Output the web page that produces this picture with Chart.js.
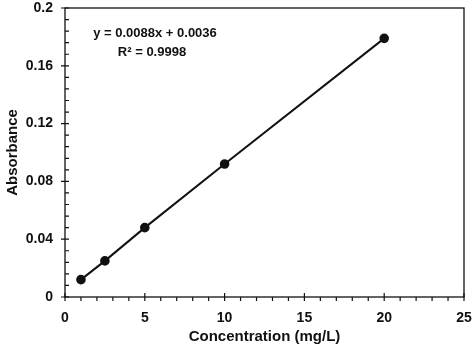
<!DOCTYPE html>
<html>
<head>
<meta charset="utf-8">
<script src="https://cdn.jsdelivr.net/npm/chart.js@4/dist/chart.umd.min.js"></script>
<style>
  html, body { margin: 0; padding: 0; background: #fff; }
  #wrap { width: 474px; height: 350px; }
</style>
</head>
<body>
<div id="wrap"><canvas id="calibration"></canvas></div>
<script>
// Standard solutions: concentration (mg/L) vs measured absorbance
const concentration = [1, 2.5, 5, 10, 20];
const absorbance = [0.012, 0.025, 0.048, 0.092, 0.179];

const xTicks = [0, 5, 10, 15, 20, 25];
const yTicks = [0, 0.04, 0.08, 0.12, 0.16, 0.2];

const equationText = "y = 0.0088x + 0.0036";
const r2Text = "R² = 0.9998";

const FONT = "'Liberation Sans', Arial, sans-serif";
const INK = "#111";

//=[ Frame, ticks and equation ]===============================================

const frameAndTicks = {
  id: "frameAndTicks",
  afterDraw(chart) {
    const { ctx, chartArea: a } = chart;
    const xs = chart.scales.x;
    const ys = chart.scales.y;
    ctx.save();
    ctx.strokeStyle = INK;
    ctx.lineWidth = 1.3;
    ctx.strokeRect(a.left, a.top, a.right - a.left, a.bottom - a.top);

    ctx.lineWidth = 1.2;
    ctx.beginPath();
    // x axis: majors cross the axis, minors hang below
    for (let i = 0; i < xTicks.length; i++) {
      const px = xs.getPixelForValue(xTicks[i]);
      ctx.moveTo(px, a.bottom - 4);
      ctx.lineTo(px, a.bottom + 4);
      if (i < xTicks.length - 1) {
        const step = (xTicks[i + 1] - xTicks[i]) / 5;
        for (let k = 1; k < 5; k++) {
          const mx = xs.getPixelForValue(xTicks[i] + k * step);
          ctx.moveTo(mx, a.bottom);
          ctx.lineTo(mx, a.bottom + 4);
        }
      }
    }
    // y axis: majors cross the axis, minors sit inside
    for (let i = 0; i < yTicks.length; i++) {
      const py = ys.getPixelForValue(yTicks[i]);
      ctx.moveTo(a.left - 4, py);
      ctx.lineTo(a.left + 4, py);
      if (i < yTicks.length - 1) {
        const step = (yTicks[i + 1] - yTicks[i]) / 5;
        for (let k = 1; k < 5; k++) {
          const my = ys.getPixelForValue(yTicks[i] + k * step);
          ctx.moveTo(a.left, my);
          ctx.lineTo(a.left + 4, my);
        }
      }
    }
    ctx.stroke();

    ctx.fillStyle = INK;
    ctx.font = "bold 13px " + FONT;
    ctx.textAlign = "center";
    ctx.textBaseline = "middle";
    ctx.fillText(equationText, 155, 33);
    ctx.fillText(r2Text, 152, 52);
    ctx.restore();
  },
};

//=[ Chart ]===================================================================

const config = {
  type: "scatter",
  data: {
    datasets: [
      {
        data: concentration.map((c, i) => ({ x: c, y: absorbance[i] })),
        showLine: true,
        borderColor: INK,
        backgroundColor: INK,
        borderWidth: 2,
        pointRadius: 3.8,
        pointHoverRadius: 3.8,
        tension: 0,
      },
    ],
  },
  options: {
    responsive: true,
    maintainAspectRatio: false,
    animation: false,
    layout: { padding: { top: 8, right: 10, left: 0, bottom: 0 } },
    plugins: {
      legend: { display: false },
      tooltip: { enabled: false },
    },
    scales: {
      x: {
        type: "linear",
        min: 0,
        max: 25,
        afterBuildTicks: (s) => { s.ticks = xTicks.map((v) => ({ value: v })); },
        afterFit: (s) => {
          s.height = 53;
          s.paddingLeft = 0;
          s.paddingRight = 0;
        },
        grid: { display: false, drawTicks: false },
        border: { display: false },
        ticks: {
          padding: 13,
          color: INK,
          font: { family: FONT, size: 14, weight: "bold" },
        },
        title: {
          display: true,
          text: "Concentration (mg/L)",
          color: INK,
          font: { family: FONT, size: 15, weight: "bold" },
          padding: { top: 3 },
        },
      },
      y: {
        type: "linear",
        min: 0,
        max: 0.2,
        afterBuildTicks: (s) => { s.ticks = yTicks.map((v) => ({ value: v })); },
        afterFit: (s) => {
          s.width = 65;
          s.paddingTop = 0;
          s.paddingBottom = 0;
        },
        grid: { display: false, drawTicks: false },
        border: { display: false },
        ticks: {
          padding: 12,
          color: INK,
          font: { family: FONT, size: 14, weight: "bold" },
          callback: (v) => String(parseFloat(v.toFixed(2))),
        },
        title: {
          display: true,
          text: "Absorbance",
          color: INK,
          font: { family: FONT, size: 15, weight: "bold" },
          padding: { bottom: 2 },
        },
      },
    },
  },
  plugins: [frameAndTicks],
};

new Chart(document.getElementById("calibration"), config);
</script>
</body>
</html>
